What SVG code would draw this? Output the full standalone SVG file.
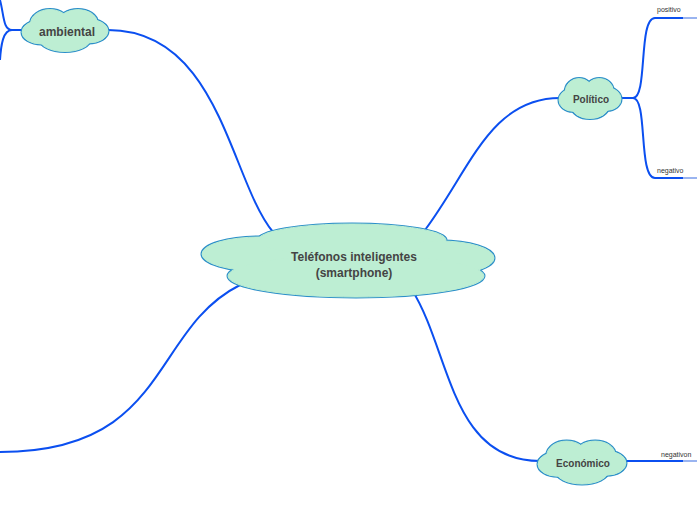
<svg xmlns="http://www.w3.org/2000/svg" xmlns:xlink="http://www.w3.org/1999/xlink" width="697" height="520" viewBox="0 0 697 520">
<style>
.ln{fill:none;stroke:#0b4ff0;stroke-width:2}
.lt{fill:none;stroke:#9ab4f0;stroke-width:2}
text{font-family:"Liberation Sans",Arial,sans-serif;fill:#444;font-weight:bold;text-anchor:middle}
.s{font-size:7px;font-weight:normal;fill:#333;text-anchor:start}
</style>
<defs>
<g id="c">
<ellipse cx="-0.35" cy="-0.3" rx="0.45" ry="0.65" vector-effect="non-scaling-stroke"/>
<ellipse cx="0.3" cy="-0.35" rx="0.45" ry="0.6" vector-effect="non-scaling-stroke"/>
<ellipse cx="-0.55" cy="0.1" rx="0.45" ry="0.55" vector-effect="non-scaling-stroke"/>
<ellipse cx="0.55" cy="0.05" rx="0.45" ry="0.55" vector-effect="non-scaling-stroke"/>
<ellipse cx="0" cy="0.4" rx="0.6" ry="0.6" vector-effect="non-scaling-stroke"/>
</g>
<g id="big">
<ellipse cx="260" cy="254" rx="58" ry="17"/><ellipse cx="352" cy="240" rx="94" ry="16"/><ellipse cx="440" cy="258" rx="54" ry="17"/><ellipse cx="356" cy="276" rx="128" ry="21"/>
</g>
</defs>
<g id="connectors">
<path class="ln" d="M273,232 C230,180 220,30 108,30"/>
<path class="ln" d="M22,30 L12,30 C3,30 4,15 0,0 M12,30 C3,30 1,45 0,60"/>
<path class="ln" d="M425,230 C470,170 490,98 560,98"/>
<path class="ln" d="M621,98 L633,98 C648,98 638,18 655,18 L683,18 M633,98 C648,98 638,178 655,178 L683,178"/>
<path class="lt" d="M683,18 L697,18 M683,178 L697,178 M683,461 L697,461"/>
<path class="ln" d="M412,290 C450,350 450,461 540,461"/>
<path class="ln" d="M626,461 L683,461"/>
<path class="ln" d="M240,285 C150,330 170,452 0,452"/>
</g>
<g id="central">
<use xlink:href="#big" fill="#bdeed3" stroke="#2c8fc9" stroke-width="3"/>
<use xlink:href="#big" fill="#bdeed3" stroke="#bdeed3" stroke-width="1"/>
<text x="354" y="261" font-size="12">Teléfonos inteligentes</text>
<text x="354" y="277" font-size="12">(smartphone)</text>
</g>
<g id="ambiental">
<use xlink:href="#c" fill="#bdeed3" stroke="#2c8fc9" stroke-width="3" transform="translate(65,30) scale(43,21.5)"/>
<use xlink:href="#c" fill="#bdeed3" stroke="#bdeed3" stroke-width="1" transform="translate(65,30) scale(43,21.5)"/>
<text x="67" y="36" font-size="12">ambiental</text>
</g>
<g id="politico">
<use xlink:href="#c" fill="#bdeed3" stroke="#2c8fc9" stroke-width="3" transform="translate(590,98) scale(31,20.5)"/>
<use xlink:href="#c" fill="#bdeed3" stroke="#bdeed3" stroke-width="1" transform="translate(590,98) scale(31,20.5)"/>
<text x="591" y="103" font-size="10">Político</text>
</g>
<g id="economico">
<use xlink:href="#c" fill="#bdeed3" stroke="#2c8fc9" stroke-width="3" transform="translate(582,462) scale(44,22)"/>
<use xlink:href="#c" fill="#bdeed3" stroke="#bdeed3" stroke-width="1" transform="translate(582,462) scale(44,22)"/>
<text x="583" y="467" font-size="10">Económico</text>
</g>
<text class="s" x="657" y="12">positivo</text>
<text class="s" x="657" y="173">negativo</text>
<text class="s" x="661" y="457">negativon</text>
</svg>
